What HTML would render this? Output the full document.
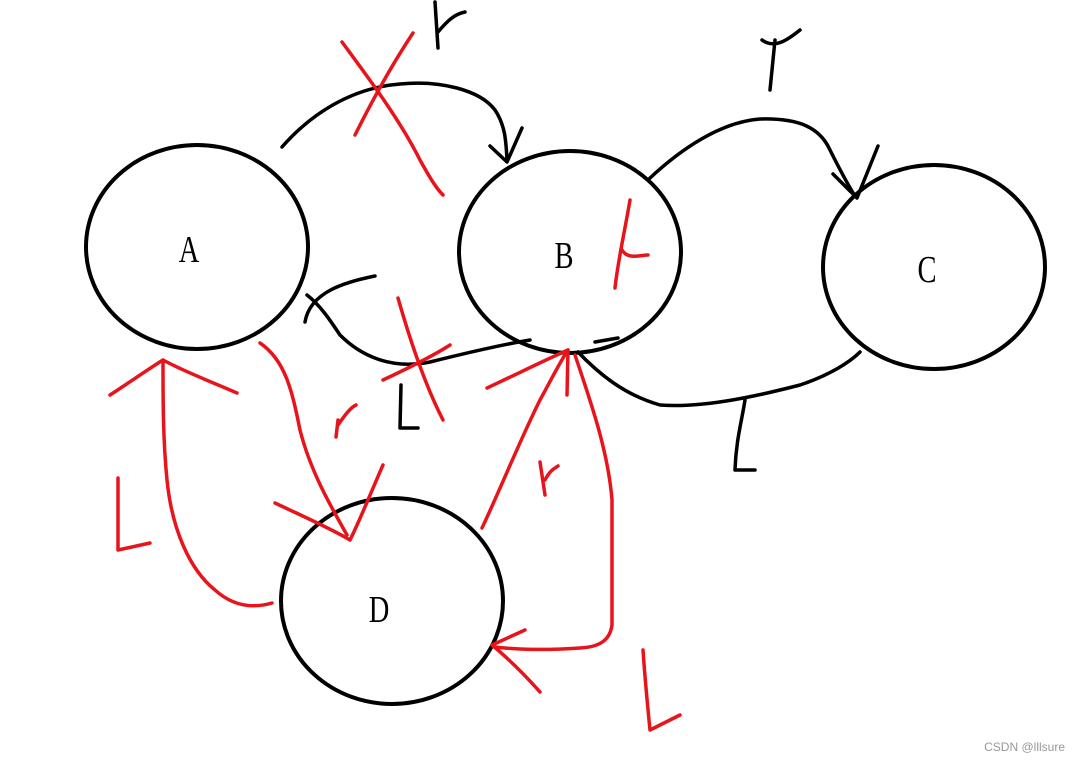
<!DOCTYPE html>
<html><head><meta charset="utf-8"><style>
html,body{margin:0;padding:0;background:#fff;}
svg{display:block;}
</style></head><body>
<svg width="1080" height="762" viewBox="0 0 1080 762" xmlns="http://www.w3.org/2000/svg">
<g fill="none" stroke="#000" stroke-width="4">
<ellipse cx="197" cy="247" rx="111" ry="102"/>
<ellipse cx="570" cy="252" rx="111" ry="101"/>
<ellipse cx="934" cy="267" rx="111" ry="102"/>
<ellipse cx="392" cy="601" rx="111" ry="103"/>
</g>
<g font-family="Liberation Serif, serif" font-size="38" fill="#000" text-anchor="middle">
<text transform="translate(189,262) scale(0.75,1)">A</text>
<text transform="translate(564,268) scale(0.75,1)">B</text>
<text transform="translate(927,282) scale(0.75,1)">C</text>
<text transform="translate(379,622) scale(0.75,1)">D</text>
</g>
<g fill="none" stroke="#000" stroke-width="3.5" stroke-linecap="round" stroke-linejoin="round">
<path d="M282 147 C310 115 350 88 400 84 C440 80 480 90 495 110 C505 125 506 140 507 160"/>
<path d="M490 146 L507 162 L522 128"/>
<path d="M435 2 L438 48 M438 32 C448 20 455 14 465 12"/>
<path d="M650 178 C680 150 720 122 760 119 C800 118 820 128 830 150 C840 170 848 185 855 196"/>
<path d="M833 174 L857 198 L878 146"/>
<path d="M775 40 L770 90 M762 40 C775 50 790 38 800 30"/>
<path d="M375 276 C345 282 310 292 305 322"/>
<path d="M307 295 C320 305 330 320 340 335 C360 355 390 370 430 362 C470 352 500 345 530 340"/>
<path d="M401 385 L400 428 L418 428"/>
<path d="M578 352 C600 375 625 395 660 405 C700 408 750 398 800 385 C830 375 850 362 860 352"/>
<path d="M595 342 L618 338"/>
<path d="M745 400 C742 420 736 440 735 470 L755 470"/>
</g>
<g fill="none" stroke="#e8141c" stroke-width="3.5" stroke-linecap="round" stroke-linejoin="round">
<path d="M342 42 C370 80 400 120 420 160 C430 178 436 188 443 195"/>
<path d="M413 33 C395 60 375 95 355 135"/>
<path d="M398 298 C410 340 425 385 443 420"/>
<path d="M383 380 C400 372 430 358 450 345"/>
<path d="M630 200 C625 230 618 260 615 288"/>
<path d="M622 250 C628 260 640 255 648 255"/>
<path d="M260 343 C285 360 292 390 300 430 C310 470 330 505 347 535"/>
<path d="M275 503 C300 515 330 528 350 540 C360 520 372 490 383 465"/>
<path d="M336 437 L338 420 M338 425 C345 415 350 408 356 405"/>
<path d="M272 603 C255 608 235 608 215 590 C190 570 172 530 167 480 C163 440 163 400 163 360"/>
<path d="M110 395 C130 382 150 368 163 360 C185 372 212 382 237 393"/>
<path d="M118 478 L118 550 L150 543"/>
<path d="M482 528 C500 490 520 440 540 400 C552 378 560 362 568 350"/>
<path d="M487 388 C515 375 545 360 568 350 L567 395"/>
<path d="M540 462 L545 495 M545 480 C550 470 555 468 558 466"/>
<path d="M575 355 C590 400 608 450 612 500 L612 625 C610 640 600 647 580 648 C550 650 520 650 495 647"/>
<path d="M525 630 L492 645 C510 660 525 675 540 692"/>
<path d="M643 650 C645 680 648 710 650 730 L680 715"/>
</g>
<text x="1065" y="751" font-family="Liberation Sans, sans-serif" font-size="12" fill="#999" text-anchor="end">CSDN @lllsure</text>
</svg>
</body></html>
